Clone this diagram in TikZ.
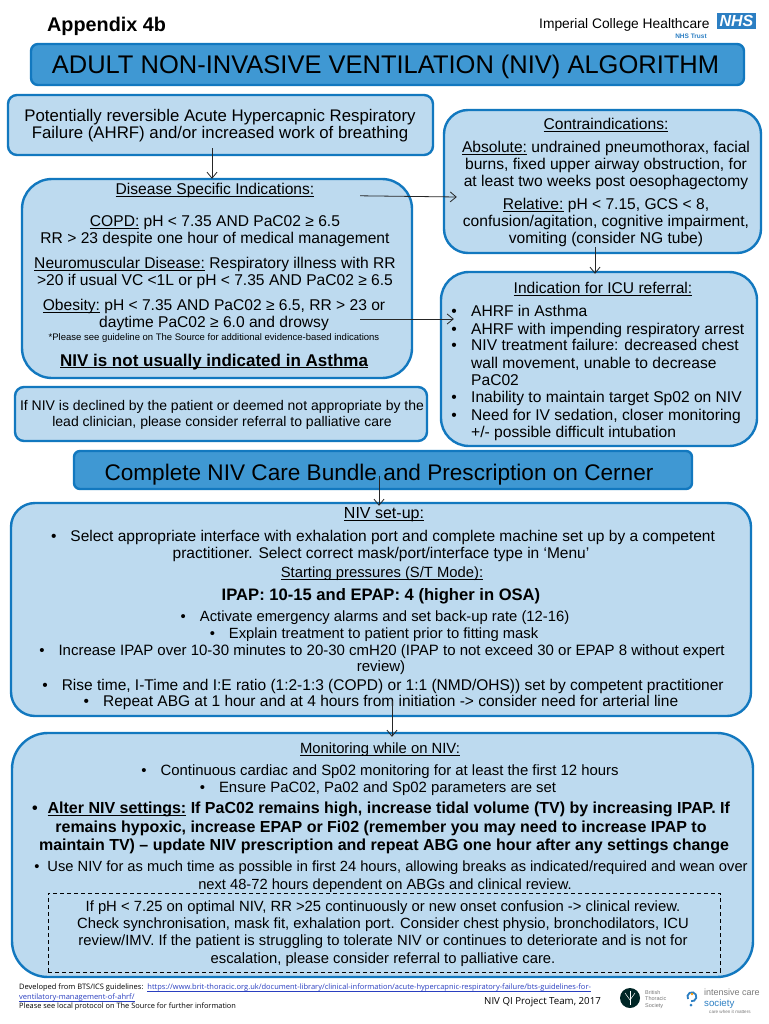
\documentclass[tikz,border=0pt]{standalone}
\usepackage{fontspec}
\setmainfont{Liberation Sans}
\newfontfamily\footfont{Open Sans}
\usetikzlibrary{arrows.meta}
\definecolor{darkfill}{HTML}{3F98D3}
\definecolor{lightfill}{HTML}{BDDAEF}
\definecolor{edgeblue}{HTML}{1278BF}
\definecolor{linkblue}{HTML}{2A3FC0}
\definecolor{nhsblue}{HTML}{2C7FC3}
\definecolor{greytext}{HTML}{7A7A7A}
\tikzset{
  x=1pt,y=-1pt,
  panel/.style={draw=edgeblue,line width=2.4pt,fill=lightfill,inner sep=0pt},
  banner/.style={panel,fill=darkfill},
  dashbox/.style={draw=black,line width=1pt,dash pattern=on 4pt off 3pt,inner sep=0pt},
  arr/.style={draw=black!85,line width=.8pt,-{Straight Barb[length=6pt,width=10pt]}},
  tx/.style={inner sep=0pt,text depth=0pt,black},
}
% \bx{name}{x1}{y1}{x2}{y2}{radius}{style}
\newcommand{\bx}[7]{\node[#7,rounded corners=#6pt,minimum width={(#4-#2)*1pt},minimum height={(#5-#3)*1pt}] (#1) at ({(#2+#4)/2},{(#3+#5)/2}) {};}
% \tl{name}{x}{y}{size}{text} centred line
\newcommand{\tl}[5]{\node[tx,anchor=base] (#1) at (#2,#3+#4*.37) {\fontsize{#4}{#4}\selectfont #5};}
% \tb{name}{x}{y}{size}{text} left aligned line
\newcommand{\tb}[5]{\node[tx,anchor=base west] (#1) at (#2,#3+#4*.37) {\fontsize{#4}{#4}\selectfont #5};}
\newcommand{\ul}[1]{\underline{\smash{#1}}}
\begin{document}
\begin{tikzpicture}
\useasboundingbox[fill=white] (0,0) rectangle (768,1024);
% boxes
\bx{title}{31}{44}{744}{85}{7}{banner}
\bx{onset}{8}{95}{433}{155}{9}{panel}
\bx{contra}{444}{110}{761}{253}{24}{panel}
\bx{disease}{22}{179}{412}{378}{30}{panel}
\bx{icu}{441}{272}{757}{446}{28}{panel}
\bx{pall}{15}{387}{427}{441}{9}{panel}
\bx{bundle}{74}{451}{692}{489}{6}{banner}
\bx{setup}{11}{503}{751}{716}{24}{panel}
\bx{monitor}{12}{733}{753}{977}{36}{panel}
\bx{esc}{48}{893}{720}{972}{0}{dashbox}
% header
\tb{app}{47}{24}{19.8}{\textbf{Appendix 4b}}
\tb{imp}{539}{23}{13.8}{Imperial College Healthcare}
\node[fill=nhsblue,minimum width=39pt,minimum height=15.5pt,inner sep=0pt,text=white] (nhs) at (736.5,21) {\fontsize{16}{16}\selectfont\textbf{\textit{NHS}}};
\node[tx,text=nhsblue] (trust) at (691,36) {\fontsize{6.5}{6.5}\selectfont\textbf{NHS Trust}};
\tl{t0}{385.5}{64}{25.5}{ADULT NON-INVASIVE VENTILATION (NIV) ALGORITHM}
% onset
\tl{o1}{220}{115}{16.8}{Potentially reversible Acute Hypercapnic Respiratory}
\tl{o2}{220}{132}{16.8}{Failure (AHRF) and/or increased work of breathing}
% disease
\tl{d0}{215}{189}{15.6}{\ul{Disease Specific Indications:}}
\tl{d1}{215}{221}{15.6}{\ul{COPD:} pH < 7.35 AND PaC02 ≥ 6.5}
\tl{d2}{215}{238}{15.6}{RR > 23 despite one hour of medical management}
\tl{d3}{215}{263}{15.6}{\ul{Neuromuscular Disease:} Respiratory illness with RR}
\tl{d4}{215}{280}{15.6}{>20 if usual VC <1L or pH < 7.35 AND PaC02 ≥ 6.5}
\tl{d5}{214}{305}{15.6}{\ul{Obesity:} pH < 7.35 AND PaC02 ≥ 6.5, RR > 23 or}
\tl{d6}{214}{322}{15.6}{daytime PaC02 ≥ 6.0 and drowsy}
\tl{d7}{214}{337}{9.5}{*Please see guideline on The Source for additional evidence-based indications}
\tl{d8}{214}{360}{17}{\textbf{\ul{NIV is not usually indicated in Asthma}}}
% contraindications
\tl{c0}{606}{124}{15.6}{\ul{Contraindications:}}
\tl{c1}{606}{147}{15.6}{\ul{Absolute:} undrained pneumothorax, facial}
\tl{c2}{606}{164}{15.6}{burns, fixed upper airway obstruction, for}
\tl{c3}{606}{181}{15.6}{at least two weeks post oesophagectomy}
\tl{c4}{606}{204}{15.6}{\ul{Relative:} pH < 7.15, GCS < 8,}
\tl{c5}{606}{221}{15.6}{confusion/agitation, cognitive impairment,}
\tl{c6}{606}{238}{15.6}{vomiting (consider NG tube)}
% ICU
\tl{i0}{603}{288}{15.6}{\ul{Indication for ICU referral:}}
\tl{ib1}{454}{311}{15.6}{•}
\tb{i1}{471}{311}{15.6}{AHRF in Asthma}
\tl{ib2}{454}{329}{15.6}{•}
\tb{i2}{471}{329}{15.6}{AHRF with impending respiratory arrest}
\tl{ib3}{454}{345}{15.6}{•}
\tb{i3}{471}{345}{15.6}{NIV treatment failure: decreased chest}
\tb{i4}{471}{363}{15.6}{wall movement, unable to decrease}
\tb{i5}{471}{380}{15.6}{PaC02}
\tl{ib4}{454}{397}{15.6}{•}
\tb{i6}{471}{397}{15.6}{Inability to maintain target Sp02 on NIV}
\tl{ib5}{454}{415}{15.6}{•}
\tb{i7}{471}{415}{15.6}{Need for IV sedation, closer monitoring}
\tb{i8}{471}{432}{15.6}{+/- possible difficult intubation}
% palliative
\tl{p1}{222}{405}{14}{If NIV is declined by the patient or deemed not appropriate by the}
\tl{p2}{222}{421}{14}{lead clinician, please consider referral to palliative care}
% bundle
\tl{b0}{379}{472}{22.6}{Complete NIV Care Bundle and Prescription on Cerner}
% set-up
\tl{s0}{384}{513}{16}{\ul{NIV set-up:}}
\tl{s1}{383}{536}{15.5}{•\hspace{14pt}Select appropriate interface with exhalation port and complete machine set up by a competent}
\tl{s2}{381}{553}{15.5}{practitioner. Select correct mask/port/interface type in ‘Menu’}
\tl{s3}{382}{572}{14.8}{\ul{Starting pressures (S/T Mode):}}
\tl{s4}{381}{594}{16.6}{\textbf{IPAP: 10-15 and EPAP: 4 (higher in OSA)}}
\tl{s5}{375}{616}{14.8}{•\hspace{14pt}Activate emergency alarms and set back-up rate  (12-16)}
\tl{s6}{374}{633}{14.8}{•\hspace{14pt}Explain treatment to patient prior to fitting mask}
\tl{s7}{382}{650}{15}{•\hspace{14pt}Increase IPAP over 10-30 minutes to 20-30 cmH20 (IPAP to not exceed 30 or EPAP 8 without expert}
\tl{s8}{381}{666}{15}{review)}
\tl{s9}{383}{685}{15.5}{•\hspace{14pt}Rise time, I-Time and I:E ratio (1:2-1:3 (COPD) or 1:1 (NMD/OHS)) set by competent practitioner}
\tl{s10}{381}{701}{15.5}{•\hspace{14pt}Repeat ABG at 1 hour and at 4 hours from initiation -> consider need for arterial line}
% monitoring
\tl{m0}{380}{748}{14.8}{\ul{Monitoring while on NIV:}}
\tl{m1}{380}{770}{14.9}{•\hspace{14pt}Continuous cardiac and Sp02 monitoring for at least the first 12 hours}
\tl{m2}{378}{787}{14.9}{•\hspace{14pt}Ensure PaC02, Pa02 and Sp02 parameters are set}
\tl{m3}{381}{808}{16}{\textbf{•\hspace{10pt}\ul{Alter NIV settings:} If PaC02 remains high, increase tidal volume (TV) by increasing IPAP. If}}
\tl{m4}{381}{827}{16}{\textbf{remains hypoxic, increase EPAP or Fi02 (remember you may need to increase IPAP to}}
\tl{m5}{384}{845}{16}{\textbf{maintain TV) – update NIV prescription and repeat ABG one hour after any settings change}}
\tl{m6}{391}{866}{14.7}{•\hspace{8pt}Use NIV for as much time as possible in first 24 hours, allowing breaks as indicated/required and wean over}
\tl{m7}{385}{884}{14.7}{next 48-72 hours dependent on ABGs and clinical review.}
\tl{e1}{383}{906}{14.8}{If pH < 7.25 on optimal NIV, RR >25 continuously or new onset confusion -> clinical review.}
\tl{e2}{383}{923}{14.8}{Check synchronisation, mask fit, exhalation port. Consider chest physio, bronchodilators, ICU}
\tl{e3}{383}{940}{14.8}{review/IMV. If the patient is struggling to tolerate NIV or continues to deteriorate and is not for}
\tl{e4}{383}{958}{14.8}{escalation, please consider referral to palliative care.}
% footer
\tb{f1}{19}{987}{7.5}{\footfont Developed from BTS/ICS guidelines:\ \ \textcolor{linkblue}{\ul{https://www.brit-thoracic.org.uk/document-library/clinical-information/acute-hypercapnic-respiratory-failure/bts-guidelines-for-}}}
\tb{f2}{19}{997}{7.5}{\footfont\textcolor{linkblue}{\ul{ventilatory-management-of-ahrf/}}}
\tb{f3}{19}{1006}{7.4}{\footfont Please see local protocol on The Source for further information}
\tb{f4}{484}{1001}{9.7}{\footfont NIV QI Project Team, 2017}
% logos
\node[circle,fill=black!70!teal,minimum size=20pt,inner sep=0pt] (bts) at (630,998) {};
\draw[white,line width=.6pt] (bts.north) ++(0,3) -- ++(0,14);
\draw[white,line width=.5pt] (625,993) -- (630,1000) -- (635,993);
\tb{bt1}{645}{992}{5.5}{\textcolor{greytext}{British}}
\tb{bt2}{645}{998}{5.5}{\textcolor{greytext}{Thoracic}}
\tb{bt3}{645}{1005}{5.5}{\textcolor{greytext}{Society}}
\draw[nhsblue,line width=1.8pt] (688,999) arc[start angle=210,end angle=-100,radius=4.5pt];
\fill[nhsblue] (691,1005) circle[radius=1.5pt];
\fill[orange!80!yellow] (692,994) circle[radius=1.3pt];
\tb{ic1}{704}{992}{9}{\textcolor{greytext}{intensive care}}
\tb{ic2}{704}{1003}{9.7}{\textcolor{nhsblue}{society}}
\tb{ic3}{709}{1012}{4.6}{\textcolor{greytext}{care when it matters}}
% connectors
\draw[arr] ([shift={(-8.5,-8)}]onset.south) -- ([shift={(-5,1)}]disease.north);
\draw[arr] ([shift={(143,18)}]disease.north) -- ([shift={(14,15.5)}]contra.west);
\draw[arr] ([shift={(-7.5,-7)}]contra.south) -- ([shift={(-4,3)}]icu.north);
\draw[arr] ([shift={(143,40.5)}]disease.center) -- ([shift={(14,-40)}]icu.west);
\draw[arr] ([shift={(-4,-14)}]bundle.south) -- ([shift={(-2,4)}]setup.north);
\draw[arr] ([shift={(11,-16)}]setup.south) -- ([shift={(9.5,5)}]monitor.north);
\end{tikzpicture}
\end{document}
